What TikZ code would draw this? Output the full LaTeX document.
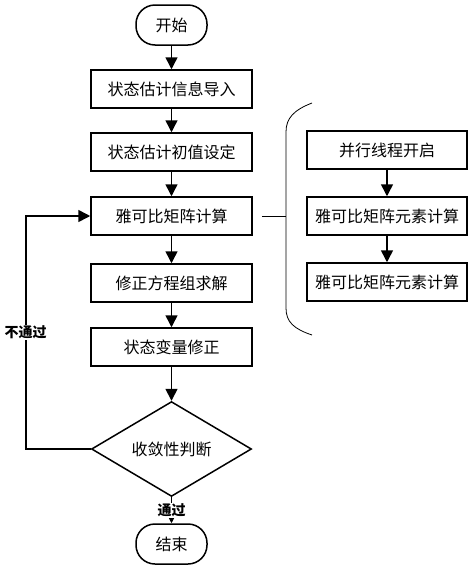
\documentclass[tikz,border=0pt]{standalone}
\usepackage{fontspec}
\setmainfont{Noto Sans CJK SC}
\usetikzlibrary{shapes.geometric, arrows.meta}
\tikzstyle{process} = [rectangle, minimum width=161pt, minimum height=38pt, inner sep=0pt, text centered, draw=black, line width=1.5pt, font=\fontsize{16pt}{18pt}\selectfont]
\tikzstyle{terminal} = [rectangle, rounded corners=19pt, minimum width=71pt, minimum height=40pt, inner sep=0pt, text centered, draw=black, line width=1.5pt, font=\fontsize{16pt}{18pt}\selectfont]
\tikzstyle{decision} = [diamond, minimum width=160pt, minimum height=76pt, inner sep=0pt, text centered, draw=black, line width=1.5pt, font=\fontsize{16pt}{18pt}\selectfont]
\tikzstyle{tag} = [fill=white, inner sep=1pt, font=\bfseries\fontsize{14pt}{16pt}\selectfont]
\tikzstyle{arrow} = [line width=1.5pt, -{Triangle[length=12pt, width=12pt]}]
\tikzstyle{brace} = [line width=0.8pt]

\begin{document}
\begin{tikzpicture}[node distance=64pt]
\useasboundingbox (0,0) rectangle (474pt,-571pt);

%% NODES

\node (start) [terminal] at (171.5pt,-25pt) {开始};
\node (load) [process, below of=start] {状态估计信息导入};
\node (init) [process, below of=load, node distance=63pt] {状态估计初值设定};
\node (jacobi) [process, below of=init] {雅可比矩阵计算};
\node (solve) [process, below of=jacobi, node distance=67pt] {修正方程组求解};
\node (update) [process, below of=solve] {状态变量修正};
\node (judge) [decision, below of=update, node distance=102pt] {收敛性判断};
\node (stop) [terminal, below of=judge, node distance=95pt] {结束};

\node (elem1) [process, right of=jacobi, node distance=215.5pt, minimum width=160pt] {雅可比矩阵元素计算};
\node (thread) [process, above of=elem1, node distance=66pt, minimum width=160pt] {并行线程开启};
\node (elem2) [process, below of=elem1, node distance=66pt, minimum width=160pt] {雅可比矩阵元素计算};

\coordinate (brmid) at (286pt,-216pt);

%% ARROWS

\draw [arrow] (start) -- (load);
\draw [arrow] (load) -- (init);
\draw [arrow] (init) -- (jacobi);
\draw [arrow] (jacobi) -- (solve);
\draw [arrow] (solve) -- (update);
\draw [arrow] (update) -- (judge);
\draw [arrow] (judge) -- node[tag] {通过} (stop);
\draw [arrow] (judge.west) -- ++(-65pt,0) |- node[tag, pos=0.25] {不通过} (jacobi.west);

\draw [arrow] (thread) -- (elem1);
\draw [arrow] (elem1) -- (elem2);

%% BRACE

\draw [brace] ([xshift=9pt]jacobi.east) -- (brmid);
\draw [brace] ([shift={(26pt,113pt)}]brmid) .. controls ([shift={(8pt,106pt)}]brmid) and ([shift={(0pt,98pt)}]brmid) .. ([shift={(0pt,84pt)}]brmid)
  -- ([shift={(0pt,-92pt)}]brmid) .. controls ([shift={(0pt,-106pt)}]brmid) and ([shift={(8pt,-113pt)}]brmid) .. ([shift={(26pt,-119pt)}]brmid);

\end{tikzpicture}
\end{document}
